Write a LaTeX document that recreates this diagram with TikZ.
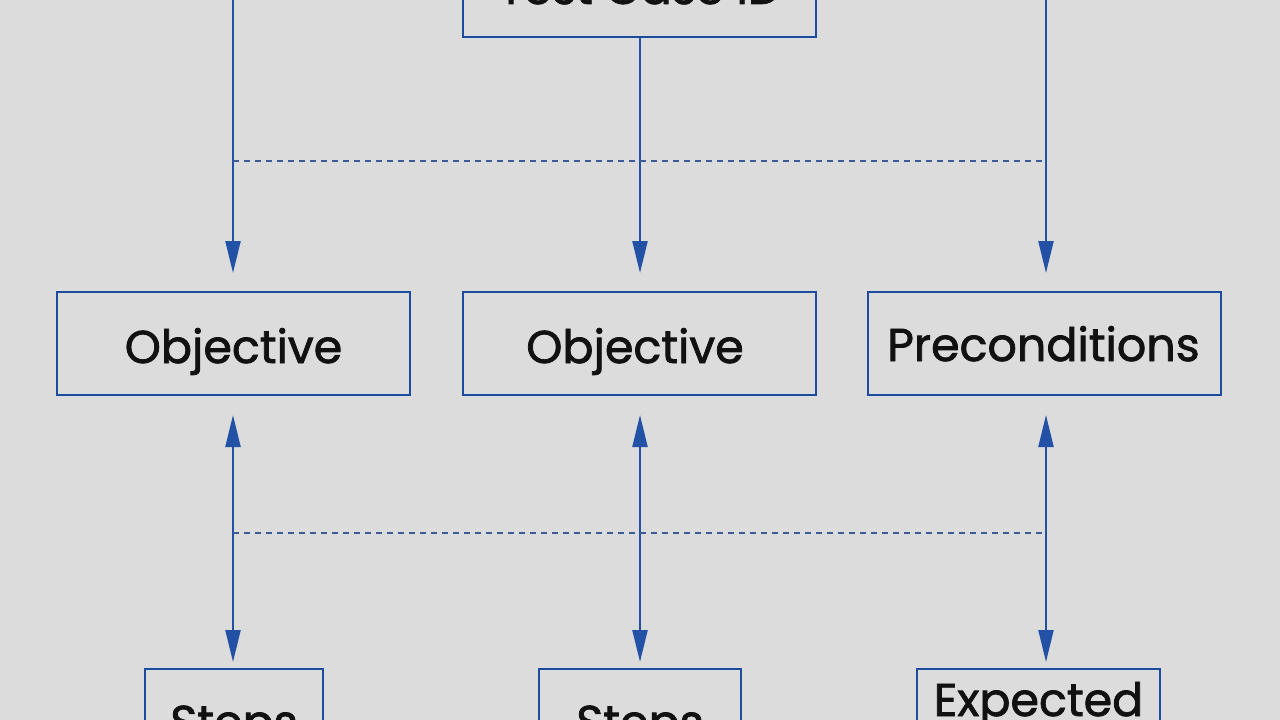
\documentclass[tikz,border=0pt]{standalone}
\usepackage{fontspec}
\setmainfont{Poppins}[FakeBold=1.6]
\usetikzlibrary{arrows.meta}
\definecolor{bg}{HTML}{DCDCDC}
\definecolor{boxblue}{HTML}{1C4C9E}
\definecolor{arrblue}{HTML}{2351A6}
\definecolor{dashblue}{HTML}{3A5A98}
\definecolor{ink}{HTML}{111111}
\begin{document}
\begin{tikzpicture}[x=1pt,y=-1pt,
  box/.style={draw=boxblue,line width=2.8pt,fill=none,inner sep=0pt,minimum width=353pt,minimum height=103pt},
  lbl/.style={font=\fontsize{46}{50}\selectfont,text=ink,inner sep=0pt,anchor=base},
  arr/.style={draw=arrblue,line width=2.3pt,-{Triangle[length=32pt,width=15pt]}},
  darr/.style={draw=arrblue,line width=2.3pt,{Triangle[length=32pt,width=15pt]}-{Triangle[length=32pt,width=15pt]}},
  dsh/.style={draw=dashblue,line width=1.3pt,dash pattern=on 6pt off 5pt}]
\useasboundingbox[fill=bg] (0,0) rectangle (1280,720);
% top box
\node[box,minimum height=95pt] (tc) at (639.5,-10.5) {};
\node[lbl] (tct) at (639.5,4) {Test Case ID};
% middle boxes
\node[box] (o1) at (233.5,343.5) {};
\node[lbl] (o1t) at (233.5,363) {Objective};
\node[box] (o2) at (639.5,343.5) {};
\node[lbl] (o2t) at (635,363) {Objective};
\node[box] (pc) at (1044.5,343.5) {};
\node[lbl] (pct) at (1043.5,361) {Preconditions};
% bottom boxes
\node[box,minimum width=178pt] (s1) at (234,720.5) {};
\node[lbl] (s1t) at (234,738) {Steps};
\node[box,minimum width=202pt] (s2) at (640,720.5) {};
\node[lbl] (s2t) at (640,738) {Steps};
\node[box,minimum width=243pt] (ex) at (1038.5,720.5) {};
\node[lbl] (ext) at (1038.5,716) {Expected};
% coordinates
\coordinate (l0) at (233,-10);
\coordinate (r0) at (1046,-10);
\coordinate (l1) at (233,273);
\coordinate (m1) at (640,273);
\coordinate (r1) at (1046,273);
\coordinate (l2) at (233,415);
\coordinate (m2) at (640,415);
\coordinate (r2) at (1046,415);
\coordinate (l3) at (233,662);
\coordinate (m3) at (640,662);
\coordinate (r3) at (1046,662);
\coordinate (dl1) at (233,161);
\coordinate (dr1) at (1046,161);
\coordinate (dl2) at (233,533);
\coordinate (dr2) at (1046,533);
% arrows
\draw[arr] (l0) -- (l1);
\draw[arr] (tc.south -| m1) -- (m1);
\draw[arr] (r0) -- (r1);
\draw[darr] (l2) -- (l3);
\draw[darr] (m2) -- (m3);
\draw[darr] (r2) -- (r3);
\draw[dsh] (dl1) -- (dr1);
\draw[dsh] (dl2) -- (dr2);
\end{tikzpicture}
\end{document}
